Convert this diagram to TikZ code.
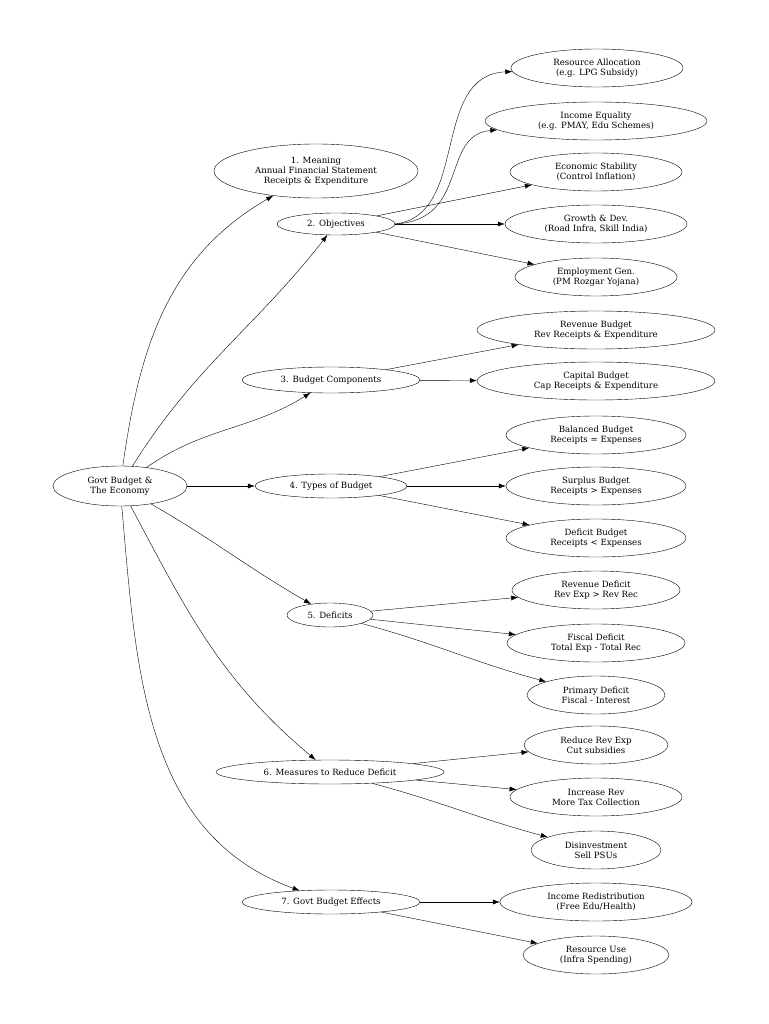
\documentclass[tikz,border=0pt]{standalone}
\usepackage{fontspec}
\setmainfont{DejaVu Serif}
\usetikzlibrary{shapes.geometric,arrows.meta}
\begin{document}
\begin{tikzpicture}[x=1pt,y=-1pt,
  el/.style={ellipse,draw,thin,inner sep=0pt,align=center,font=\fontsize{8.6}{10}\selectfont},
  ar/.style={draw,thin,-{Latex[length=7pt,width=5pt]}}]
\useasboundingbox (0,0) rectangle (768,1024);
\node[el,minimum width=134,minimum height=40] (r) at (120,486) {Govt Budget \&\\The Economy};
\node[el,minimum width=204,minimum height=54] (n1) at (316,171) {1. Meaning\\Annual Financial Statement\\Receipts \& Expenditure};
\node[el,minimum width=118,minimum height=22] (n2) at (336,224) {2. Objectives};
\node[el,minimum width=178,minimum height=26] (n3) at (331,380) {3. Budget Components};
\node[el,minimum width=152,minimum height=24] (n4) at (331,486) {4. Types of Budget};
\node[el,minimum width=86,minimum height=24] (n5) at (330,615) {5. Deficits};
\node[el,minimum width=228,minimum height=24] (n6) at (330,772) {6. Measures to Reduce Deficit};
\node[el,minimum width=178,minimum height=24] (n7) at (331,902) {7. Govt Budget Effects};
\node[el,minimum width=172,minimum height=38] (a1) at (597,68) {Resource Allocation\\(e.g. LPG Subsidy)};
\node[el,minimum width=222,minimum height=38] (a2) at (596,121) {Income Equality\\(e.g. PMAY, Edu Schemes)};
\node[el,minimum width=172,minimum height=38] (a3) at (596,172) {Economic Stability\\(Control Inflation)};
\node[el,minimum width=182,minimum height=38] (a4) at (596,224) {Growth \& Dev.\\(Road Infra, Skill India)};
\node[el,minimum width=162,minimum height=38] (a5) at (596,277) {Employment Gen.\\(PM Rozgar Yojana)};
\node[el,minimum width=238,minimum height=38] (b1) at (596,330) {Revenue Budget\\Rev Receipts \& Expenditure};
\node[el,minimum width=238,minimum height=38] (b2) at (596,381) {Capital Budget\\Cap Receipts \& Expenditure};
\node[el,minimum width=180,minimum height=38] (c1) at (596,435) {Balanced Budget\\Receipts = Expenses};
\node[el,minimum width=180,minimum height=38] (c2) at (596,486) {Surplus Budget\\Receipts > Expenses};
\node[el,minimum width=180,minimum height=38] (c3) at (596,538) {Deficit Budget\\Receipts < Expenses};
\node[el,minimum width=168,minimum height=38] (d1) at (596,590) {Revenue Deficit\\Rev Exp > Rev Rec};
\node[el,minimum width=178,minimum height=38] (d2) at (596,643) {Fiscal Deficit\\Total Exp - Total Rec};
\node[el,minimum width=138,minimum height=38] (d3) at (596,695) {Primary Deficit\\Fiscal - Interest};
\node[el,minimum width=144,minimum height=38] (e1) at (596,745) {Reduce Rev Exp\\Cut subsidies};
\node[el,minimum width=172,minimum height=38] (e2) at (596,797) {Increase Rev\\More Tax Collection};
\node[el,minimum width=130,minimum height=38] (e3) at (596,850) {Disinvestment\\Sell PSUs};
\node[el,minimum width=192,minimum height=38] (f1) at (596,902) {Income Redistribution\\(Free Edu/Health)};
\node[el,minimum width=146,minimum height=38] (f2) at (596,955) {Resource Use\\(Infra Spending)};
\draw[ar] (r) to[out=82,in=210] (n1);
\draw[ar] (r) to[out=58,in=232] (n2);
\draw[ar] (r) to[out=35,in=212] (n3);
\draw[ar] (r) -- (n4);
\draw[ar] (r) to[out=-30,in=150] (n5);
\draw[ar] (r) to[out=-62,in=140] (n6);
\draw[ar] (r) to[out=-85,in=160] (n7);
\draw[ar] (n2.east) .. controls (470,215) and (430,75) .. (a1);
\draw[ar] (n2.east) .. controls (470,220) and (440,135) .. (a2);
\draw[ar] (n2) -- (a3);
\draw[ar] (n2) -- (a4);
\draw[ar] (n2) -- (a5);
\draw[ar] (n3) -- (b1);
\draw[ar] (n3) -- (b2);
\draw[ar] (n4) -- (c1);
\draw[ar] (n4) -- (c2);
\draw[ar] (n4) -- (c3);
\draw[ar] (n5) -- (d1);
\draw[ar] (n5) -- (d2);
\draw[ar] (n5) to[out=-15,in=165] (d3);
\draw[ar] (n6) -- (e1);
\draw[ar] (n6) -- (e2);
\draw[ar] (n6) to[out=-15,in=165] (e3);
\draw[ar] (n7) -- (f1);
\draw[ar] (n7) -- (f2);
\end{tikzpicture}
\end{document}
